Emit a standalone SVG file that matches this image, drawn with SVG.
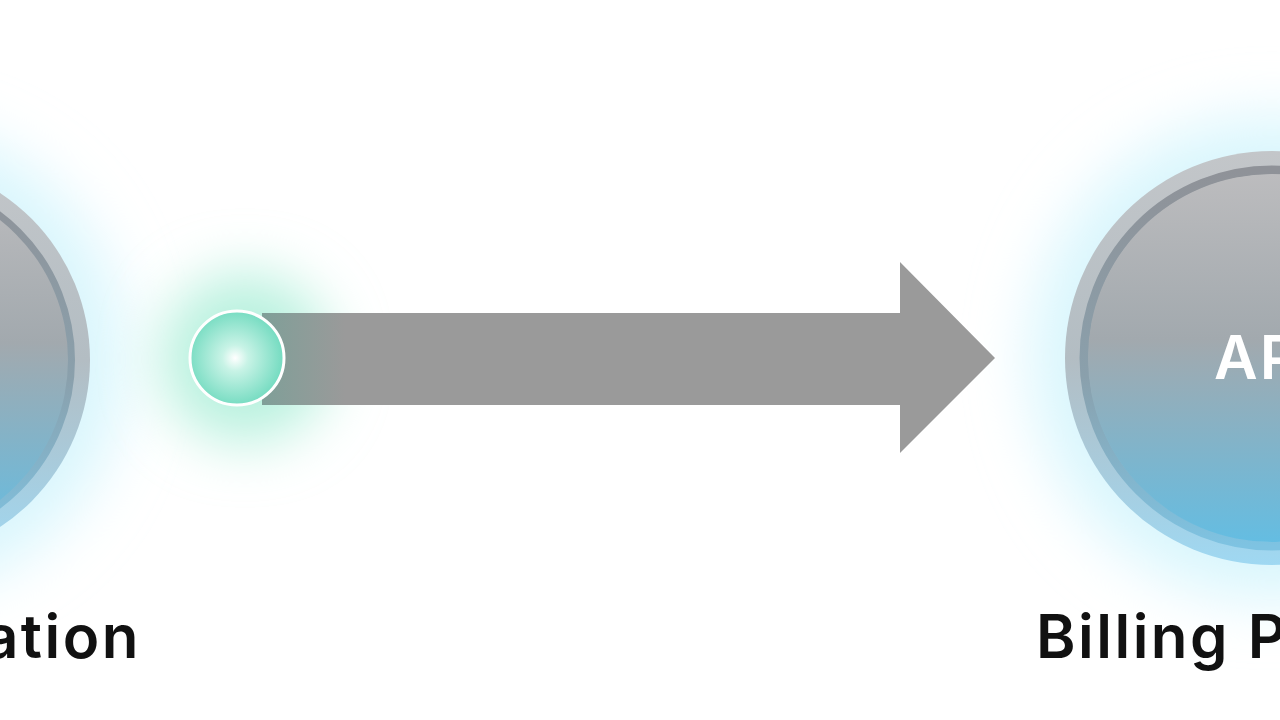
<svg xmlns="http://www.w3.org/2000/svg" width="1280" height="720" viewBox="0 0 1280 720">
  <defs>
    <filter id="glow" x="-50%" y="-50%" width="200%" height="200%">
      <feGaussianBlur stdDeviation="30"/>
    </filter>
    <filter id="glowBall" x="-100%" y="-100%" width="300%" height="300%">
      <feGaussianBlur stdDeviation="28"/>
    </filter>
    <linearGradient id="outerRing" x1="0" y1="0" x2="0" y2="1">
      <stop offset="0" stop-color="#c3c6c9"/>
      <stop offset="0.5" stop-color="#b3bdc3"/>
      <stop offset="1" stop-color="#9fd8f2"/>
    </linearGradient>
    <linearGradient id="darkRing" x1="0" y1="0" x2="0" y2="1">
      <stop offset="0" stop-color="#8f9298"/>
      <stop offset="0.55" stop-color="#8aa0ac"/>
      <stop offset="1" stop-color="#7ec3e2"/>
    </linearGradient>
    <linearGradient id="coreFill" x1="0" y1="0" x2="0" y2="1">
      <stop offset="0" stop-color="#bcbcbe"/>
      <stop offset="0.45" stop-color="#a2a9ae"/>
      <stop offset="1" stop-color="#64bde2"/>
    </linearGradient>
    <radialGradient id="ballFill" cx="0.48" cy="0.5" r="0.55">
      <stop offset="0" stop-color="#ffffff"/>
      <stop offset="0.25" stop-color="#c8f3e6"/>
      <stop offset="1" stop-color="#6cd9bd"/>
    </radialGradient>
    <linearGradient id="shaftG" x1="262" y1="0" x2="345" y2="0" gradientUnits="userSpaceOnUse">
      <stop offset="0" stop-color="#7f9f98"/>
      <stop offset="1" stop-color="#9a9a9a"/>
    </linearGradient>
    <style>
      .label { font-family: Inter, "Liberation Sans", sans-serif; font-size: 60px; font-weight: 600; letter-spacing: 2.5px; fill: #111111; }
      .inner { font-family: Inter, "Liberation Sans", sans-serif; font-size: 60px; font-weight: 600; letter-spacing: 2px; fill: #ffffff; }
    </style>
  </defs>
  <rect width="1280" height="720" fill="#ffffff"/>

  <g id="node-application">
    <circle cx="-110" cy="360" r="235" fill="#d9f6fd" filter="url(#glow)"/>
    <circle cx="-110" cy="360" r="200" fill="url(#outerRing)"/>
    <circle cx="-110" cy="360" r="181" fill="none" stroke="url(#darkRing)" stroke-width="8"/>
    <circle cx="-110" cy="360" r="178" fill="url(#coreFill)"/>
    <text class="label" x="141" y="658" text-anchor="end">ation</text>
  </g>

  <g id="node-billing">
    <circle cx="1272" cy="358" r="242" fill="#d9f6fd" filter="url(#glow)"/>
    <circle cx="1272" cy="358" r="207" fill="url(#outerRing)"/>
    <circle cx="1272" cy="358" r="188" fill="none" stroke="url(#darkRing)" stroke-width="9"/>
    <circle cx="1272" cy="358" r="184" fill="url(#coreFill)"/>
    <text class="inner" x="1214" y="379">AP</text>
    <text class="label" x="1036" y="658">Billing P</text>
  </g>

  <g id="connectors">
    <circle cx="245" cy="358" r="85" fill="#b8f1de" filter="url(#glowBall)"/>
    <path d="M262 313 L900 313 L900 262 L995 358 L900 453 L900 405 L262 405 Z" fill="url(#shaftG)"/>
    <circle cx="237" cy="358" r="47" fill="url(#ballFill)" stroke="#ffffff" stroke-width="3"/>
  </g>
</svg>
